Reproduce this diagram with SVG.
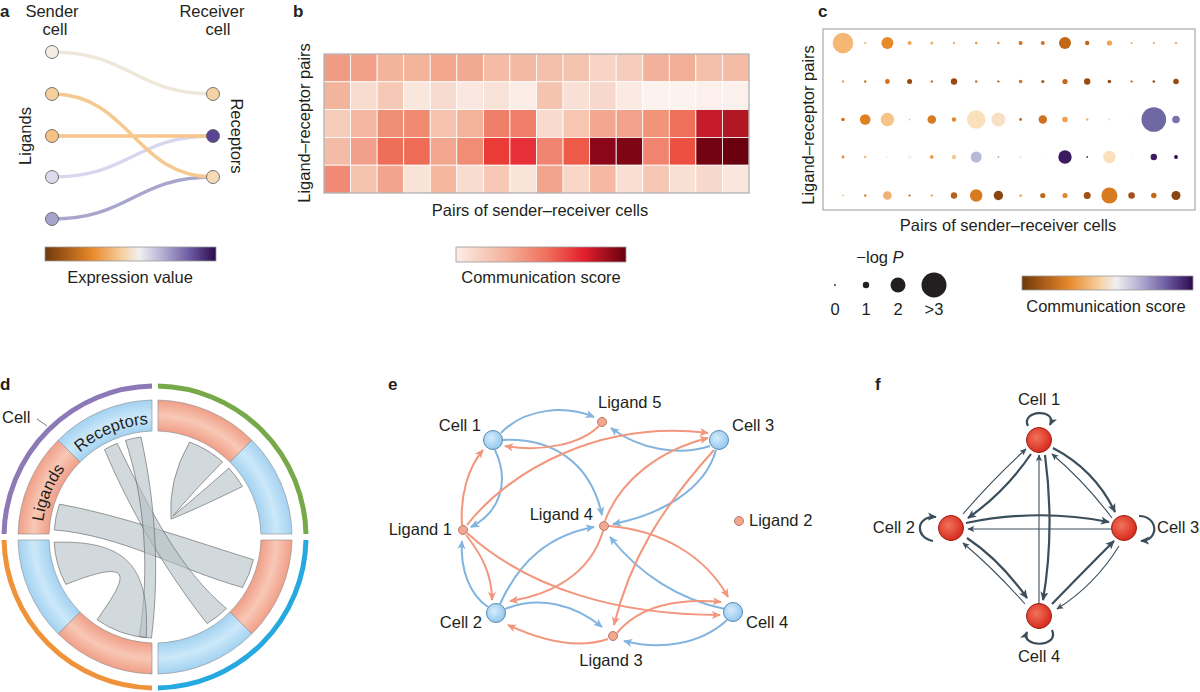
<svg xmlns="http://www.w3.org/2000/svg" width="1200" height="692" viewBox="0 0 1200 692">
<defs>
<style>
text{font-family:"Liberation Sans",Arial,sans-serif;font-size:16.5px;fill:#231f20}
.pl{font-weight:bold;font-size:17px}
.na{stroke:#555;stroke-width:0.8}
.ca{fill:none;stroke-width:3.5}
.hm rect{stroke:#fff;stroke-width:0.8}
.bar{stroke:#999;stroke-width:0.8}
.ring{fill:none;stroke-width:5}
.sal{fill:url(#gs);stroke:#8a8a8a;stroke-width:0.6}
.blu{fill:url(#gb);stroke:#8a8a8a;stroke-width:0.6}
.chord{fill:#b4bfc5;fill-opacity:0.6;stroke:#5c5c5c;stroke-width:0.6}
.eb{fill:none;stroke:#82b4df;stroke-width:2;marker-end:url(#mb)}
.es{fill:none;stroke:#f2977d;stroke-width:2;marker-end:url(#ms)}
.cell{fill:url(#ge);stroke:#4c7fa5;stroke-width:0.9}
.lig{fill:#f4a78f;stroke:#a8644c;stroke-width:0.8}
.fk{fill:none;stroke:#3b4e5b;stroke-width:2.2;marker-end:url(#mk)}
.fn{fill:none;stroke:#3b4e5b;stroke-width:1.1;marker-end:url(#mn)}
.fc{fill:url(#gf);stroke:#9b1b12;stroke-width:1}
</style>
<linearGradient id="gexp" x1="0" x2="1" y1="0" y2="0">
<stop offset="0" stop-color="#6e3a0c"/><stop offset="0.12" stop-color="#a65a17"/><stop offset="0.28" stop-color="#e98a2c"/><stop offset="0.45" stop-color="#f6cf9f"/><stop offset="0.55" stop-color="#f1f0f0"/><stop offset="0.68" stop-color="#b6b4d5"/><stop offset="0.85" stop-color="#6a58a0"/><stop offset="1" stop-color="#2c0a4d"/>
</linearGradient>
<linearGradient id="gcom" x1="0" x2="1" y1="0" y2="0">
<stop offset="0" stop-color="#fbede6"/><stop offset="0.3" stop-color="#f4b09a"/><stop offset="0.55" stop-color="#ee6b57"/><stop offset="0.75" stop-color="#e41f2e"/><stop offset="1" stop-color="#67000d"/>
</linearGradient>
<radialGradient id="gs" gradientUnits="userSpaceOnUse" cx="155" cy="537" r="137">
<stop offset="0.774" stop-color="#f09f88"/><stop offset="0.887" stop-color="#f8c8b6"/><stop offset="1" stop-color="#f09f88"/>
</radialGradient>
<radialGradient id="gb" gradientUnits="userSpaceOnUse" cx="155" cy="537" r="137">
<stop offset="0.774" stop-color="#a3d2f1"/><stop offset="0.887" stop-color="#cce8f9"/><stop offset="1" stop-color="#a3d2f1"/>
</radialGradient>
<radialGradient id="ge" cx="0.4" cy="0.4" r="0.65">
<stop offset="0" stop-color="#d5ecfb"/><stop offset="1" stop-color="#8fc6ee"/>
</radialGradient>
<radialGradient id="gf" cx="0.4" cy="0.4" r="0.65">
<stop offset="0" stop-color="#f2735a"/><stop offset="1" stop-color="#d4261a"/>
</radialGradient>
<marker id="mb" viewBox="0 0 10 10" refX="9" refY="5" markerWidth="9" markerHeight="9" markerUnits="userSpaceOnUse" orient="auto"><path d="M0,0.5 L10,5 L0,9.5 L2.5,5 Z" fill="#82b4df"/></marker>
<marker id="ms" viewBox="0 0 10 10" refX="9" refY="5" markerWidth="9" markerHeight="9" markerUnits="userSpaceOnUse" orient="auto"><path d="M0,0.5 L10,5 L0,9.5 L2.5,5 Z" fill="#f2977d"/></marker>
<marker id="mk" viewBox="0 0 10 10" refX="9" refY="5" markerWidth="9" markerHeight="9" markerUnits="userSpaceOnUse" orient="auto"><path d="M0,0.5 L10,5 L0,9.5 L2.5,5 Z" fill="#3b4e5b"/></marker>
<marker id="mn" viewBox="0 0 10 10" refX="9" refY="5" markerWidth="7" markerHeight="7" markerUnits="userSpaceOnUse" orient="auto"><path d="M0,0.5 L10,5 L0,9.5 L2.5,5 Z" fill="#3b4e5b"/></marker>
<path id="tpR" d="M75.1,457.1 A113,113 0 0 1 155,424"/>
<path id="tpL" d="M42,537 A113,113 0 0 1 75.1,457.1"/>
</defs>
<rect width="1200" height="692" fill="#fff"/>

<!-- Panel a -->
<g id="panel-a">
<text class="pl" x="0" y="17">a</text>
<text x="52" y="17" text-anchor="middle">Sender</text>
<text x="55" y="35" text-anchor="middle">cell</text>
<text x="212" y="17" text-anchor="middle">Receiver</text>
<text x="218" y="35" text-anchor="middle">cell</text>
<text transform="translate(31,136) rotate(-90)" text-anchor="middle">Ligands</text>
<text transform="translate(231,136) rotate(90)" text-anchor="middle">Receptors</text>
<g id="a-links">
<path class="ca" stroke="#efe7da" d="M52,52 C130,52 135,94 213,94"/>
<path class="ca" stroke="#d9d7ed" d="M52,177 C130,177 135,136 213,136"/>
<path class="ca" stroke="#a9a6cd" d="M52,219 C130,219 135,177 213,177"/>
<path class="ca" stroke="#f6c68a" d="M52,136 L213,136"/>
<path class="ca" stroke="#f5c98f" d="M52,94 C130,94 135,177 213,177"/>
</g>
<g id="a-nodes">
<circle class="na" cx="52" cy="52" r="6.5" fill="#f4ece0"/>
<circle class="na" cx="52" cy="94" r="6.5" fill="#f7cf9f"/>
<circle class="na" cx="52" cy="136" r="6.5" fill="#f5c285"/>
<circle class="na" cx="52" cy="177" r="6.5" fill="#dcdbee"/>
<circle class="na" cx="52" cy="219" r="6.5" fill="#a6a4cb"/>
<circle class="na" cx="213" cy="94" r="6.5" fill="#f6d3a4"/>
<circle class="na" cx="213" cy="136" r="6.5" fill="#5b4394"/>
<circle class="na" cx="213" cy="177" r="6.5" fill="#f6dbb8"/>
</g>
<rect class="bar" x="45" y="247" width="171" height="14" fill="url(#gexp)"/>
<text x="130" y="283" text-anchor="middle">Expression value</text>
</g>

<!-- Panel b -->
<g id="panel-b">
<text class="pl" x="293" y="17">b</text>
<text transform="translate(310,123) rotate(-90)" text-anchor="middle">Ligand–receptor pairs</text>
<g class="hm">
<rect x="324" y="54" width="26.56" height="27.8" fill="#f09c84"/><rect x="350.56" y="54" width="26.56" height="27.8" fill="#f2a088"/><rect x="377.13" y="54" width="26.56" height="27.8" fill="#f3b49c"/><rect x="403.69" y="54" width="26.56" height="27.8" fill="#f3b29a"/><rect x="430.25" y="54" width="26.56" height="27.8" fill="#f2a68c"/><rect x="456.81" y="54" width="26.56" height="27.8" fill="#f1a990"/><rect x="483.38" y="54" width="26.56" height="27.8" fill="#f4bba5"/><rect x="509.94" y="54" width="26.56" height="27.8" fill="#f4b9a2"/><rect x="536.5" y="54" width="26.56" height="27.8" fill="#f4c0aa"/><rect x="563.06" y="54" width="26.56" height="27.8" fill="#f4c3ae"/><rect x="589.63" y="54" width="26.56" height="27.8" fill="#f7d4c6"/><rect x="616.19" y="54" width="26.56" height="27.8" fill="#f6cdbc"/><rect x="642.75" y="54" width="26.56" height="27.8" fill="#f3b09a"/><rect x="669.31" y="54" width="26.56" height="27.8" fill="#f2ae96"/><rect x="695.88" y="54" width="26.56" height="27.8" fill="#f4bfa9"/><rect x="722.44" y="54" width="26.56" height="27.8" fill="#f4bba5"/>
<rect x="324" y="81.8" width="26.56" height="27.8" fill="#f3b49c"/><rect x="350.56" y="81.8" width="26.56" height="27.8" fill="#f8dcd0"/><rect x="377.13" y="81.8" width="26.56" height="27.8" fill="#f6c8b6"/><rect x="403.69" y="81.8" width="26.56" height="27.8" fill="#f9e6dd"/><rect x="430.25" y="81.8" width="26.56" height="27.8" fill="#f8dbd0"/><rect x="456.81" y="81.8" width="26.56" height="27.8" fill="#fae8e0"/><rect x="483.38" y="81.8" width="26.56" height="27.8" fill="#f9e2d8"/><rect x="509.94" y="81.8" width="26.56" height="27.8" fill="#fbece6"/><rect x="536.5" y="81.8" width="26.56" height="27.8" fill="#f5c4af"/><rect x="563.06" y="81.8" width="26.56" height="27.8" fill="#f9e0d6"/><rect x="589.63" y="81.8" width="26.56" height="27.8" fill="#f8d8cc"/><rect x="616.19" y="81.8" width="26.56" height="27.8" fill="#faeae2"/><rect x="642.75" y="81.8" width="26.56" height="27.8" fill="#fcf3ef"/><rect x="669.31" y="81.8" width="26.56" height="27.8" fill="#fcf2ee"/><rect x="695.88" y="81.8" width="26.56" height="27.8" fill="#fbf0eb"/><rect x="722.44" y="81.8" width="26.56" height="27.8" fill="#fbf0eb"/>
<rect x="324" y="109.6" width="26.56" height="27.8" fill="#f6ccbb"/><rect x="350.56" y="109.6" width="26.56" height="27.8" fill="#f5b6a1"/><rect x="377.13" y="109.6" width="26.56" height="27.8" fill="#f08e74"/><rect x="403.69" y="109.6" width="26.56" height="27.8" fill="#f08b72"/><rect x="430.25" y="109.6" width="26.56" height="27.8" fill="#f5c3ae"/><rect x="456.81" y="109.6" width="26.56" height="27.8" fill="#f3b29a"/><rect x="483.38" y="109.6" width="26.56" height="27.8" fill="#ef7f68"/><rect x="509.94" y="109.6" width="26.56" height="27.8" fill="#ef7f68"/><rect x="536.5" y="109.6" width="26.56" height="27.8" fill="#f8dacd"/><rect x="563.06" y="109.6" width="26.56" height="27.8" fill="#f6c6b3"/><rect x="589.63" y="109.6" width="26.56" height="27.8" fill="#f3a78f"/><rect x="616.19" y="109.6" width="26.56" height="27.8" fill="#f2a28a"/><rect x="642.75" y="109.6" width="26.56" height="27.8" fill="#f29478"/><rect x="669.31" y="109.6" width="26.56" height="27.8" fill="#ee6f5a"/><rect x="695.88" y="109.6" width="26.56" height="27.8" fill="#c51b2a"/><rect x="722.44" y="109.6" width="26.56" height="27.8" fill="#b21824"/>
<rect x="324" y="137.4" width="26.56" height="27.8" fill="#f4bca6"/><rect x="350.56" y="137.4" width="26.56" height="27.8" fill="#f2a08a"/><rect x="377.13" y="137.4" width="26.56" height="27.8" fill="#ee6f58"/><rect x="403.69" y="137.4" width="26.56" height="27.8" fill="#ee6c56"/><rect x="430.25" y="137.4" width="26.56" height="27.8" fill="#f2a68e"/><rect x="456.81" y="137.4" width="26.56" height="27.8" fill="#f08d74"/><rect x="483.38" y="137.4" width="26.56" height="27.8" fill="#ea3b36"/><rect x="509.94" y="137.4" width="26.56" height="27.8" fill="#e7303a"/><rect x="536.5" y="137.4" width="26.56" height="27.8" fill="#f08470"/><rect x="563.06" y="137.4" width="26.56" height="27.8" fill="#ed5a48"/><rect x="589.63" y="137.4" width="26.56" height="27.8" fill="#8a0618"/><rect x="616.19" y="137.4" width="26.56" height="27.8" fill="#7d0514"/><rect x="642.75" y="137.4" width="26.56" height="27.8" fill="#f08470"/><rect x="669.31" y="137.4" width="26.56" height="27.8" fill="#ec5040"/><rect x="695.88" y="137.4" width="26.56" height="27.8" fill="#730311"/><rect x="722.44" y="137.4" width="26.56" height="27.8" fill="#6a000e"/>
<rect x="324" y="165.2" width="26.56" height="27.8" fill="#f08a74"/><rect x="350.56" y="165.2" width="26.56" height="27.8" fill="#f5c4af"/><rect x="377.13" y="165.2" width="26.56" height="27.8" fill="#f3a48c"/><rect x="403.69" y="165.2" width="26.56" height="27.8" fill="#f9e2d6"/><rect x="430.25" y="165.2" width="26.56" height="27.8" fill="#f4b7a0"/><rect x="456.81" y="165.2" width="26.56" height="27.8" fill="#f8dccf"/><rect x="483.38" y="165.2" width="26.56" height="27.8" fill="#f6c8b5"/><rect x="509.94" y="165.2" width="26.56" height="27.8" fill="#fae4da"/><rect x="536.5" y="165.2" width="26.56" height="27.8" fill="#f3a48c"/><rect x="563.06" y="165.2" width="26.56" height="27.8" fill="#f8d6c8"/><rect x="589.63" y="165.2" width="26.56" height="27.8" fill="#f5b8a2"/><rect x="616.19" y="165.2" width="26.56" height="27.8" fill="#faded2"/><rect x="642.75" y="165.2" width="26.56" height="27.8" fill="#f6c8b4"/><rect x="669.31" y="165.2" width="26.56" height="27.8" fill="#f9e0d4"/><rect x="695.88" y="165.2" width="26.56" height="27.8" fill="#f8d8cb"/><rect x="722.44" y="165.2" width="26.56" height="27.8" fill="#fae6dd"/>
</g>
<rect x="324" y="54" width="425" height="139" fill="none" stroke="#999" stroke-width="1"/>
<text x="540" y="216" text-anchor="middle">Pairs of sender–receiver cells</text>
<rect class="bar" x="456" y="247" width="170" height="15" fill="url(#gcom)"/>
<text x="541" y="283" text-anchor="middle">Communication score</text>
</g>

<!-- Panel c -->
<g id="panel-c">
<text class="pl" x="818" y="17">c</text>
<rect x="823" y="29" width="372" height="181" fill="none" stroke="#999" stroke-width="1"/>
<text transform="translate(814,125) rotate(-90)" text-anchor="middle">Ligand–receptor pairs</text>
<g id="c-dots">
<circle cx="843" cy="43" r="10.3" fill="#f5b774"/><circle cx="865.2" cy="43" r="1.2" fill="#f0c090"/><circle cx="887.4" cy="43" r="6" fill="#e8892a"/><circle cx="909.6" cy="43" r="2" fill="#f0a860"/><circle cx="931.8" cy="43" r="1.6" fill="#f0b070"/><circle cx="954" cy="43" r="1.2" fill="#f0b070"/><circle cx="976.2" cy="43" r="1.2" fill="#e89040"/><circle cx="998.4" cy="43" r="1.2" fill="#e89040"/><circle cx="1020.6" cy="43" r="2" fill="#d47020"/><circle cx="1042.8" cy="43" r="2" fill="#d47020"/><circle cx="1065" cy="43" r="6" fill="#c06818"/><circle cx="1087.2" cy="43" r="2.2" fill="#c06818"/><circle cx="1109.4" cy="43" r="2.6" fill="#f0a050"/><circle cx="1131.6" cy="43" r="1.1" fill="#f0b070"/><circle cx="1153.8" cy="43" r="1.1" fill="#e8a060"/><circle cx="1176" cy="43" r="1.2" fill="#f0b070"/>
<circle cx="843" cy="81.5" r="1.2" fill="#e8a060"/><circle cx="865.2" cy="81.5" r="1.2" fill="#c87020"/><circle cx="887.4" cy="81.5" r="2.4" fill="#d47020"/><circle cx="909.6" cy="81.5" r="2.5" fill="#9a4a10"/><circle cx="931.8" cy="81.5" r="1.2" fill="#c07030"/><circle cx="954" cy="81.5" r="3.2" fill="#9a4a10"/><circle cx="976.2" cy="81.5" r="1.2" fill="#c07030"/><circle cx="998.4" cy="81.5" r="1.1" fill="#9a4a10"/><circle cx="1020.6" cy="81.5" r="1.8" fill="#d47020"/><circle cx="1042.8" cy="81.5" r="1.6" fill="#a85818"/><circle cx="1065" cy="81.5" r="2.6" fill="#c06818"/><circle cx="1087.2" cy="81.5" r="3.2" fill="#9a4a10"/><circle cx="1109.4" cy="81.5" r="1.8" fill="#9a4a10"/><circle cx="1131.6" cy="81.5" r="1.1" fill="#a85818"/><circle cx="1153.8" cy="81.5" r="1.3" fill="#9a4a10"/><circle cx="1176" cy="81.5" r="2.8" fill="#9a4a10"/>
<circle cx="843" cy="119.5" r="1.8" fill="#d47020"/><circle cx="865.2" cy="119.5" r="5.3" fill="#e08020"/><circle cx="887.4" cy="119.5" r="6.7" fill="#f7c488"/><circle cx="909.6" cy="119.5" r="0.9" fill="#f0c090"/><circle cx="931.8" cy="119.5" r="4.3" fill="#d87a20"/><circle cx="954" cy="119.5" r="2.2" fill="#e08a30"/><circle cx="976.2" cy="119.5" r="9.3" fill="#fbe0bc"/><circle cx="998.4" cy="119.5" r="7" fill="#f8e0c4"/><circle cx="1020.6" cy="119.5" r="1.4" fill="#c06818"/><circle cx="1042.8" cy="119.5" r="4.2" fill="#d07020"/><circle cx="1065" cy="119.5" r="2.8" fill="#f0a050"/><circle cx="1087.2" cy="119.5" r="1.2" fill="#f0b070"/><circle cx="1109.4" cy="119.5" r="0.9" fill="#f5d0a0"/><circle cx="1131.6" cy="119.5" r="0.6" fill="#f8e8d8"/><circle cx="1153.8" cy="119.5" r="12.3" fill="#6f68a2"/><circle cx="1176" cy="119.5" r="3.8" fill="#7a72ac"/>
<circle cx="843" cy="157" r="1.4" fill="#e08a30"/><circle cx="865.2" cy="157" r="1.2" fill="#f0b070"/><circle cx="887.4" cy="157" r="0.9" fill="#f0eee8"/><circle cx="909.6" cy="157" r="2" fill="#f0eff2"/><circle cx="931.8" cy="157" r="1.9" fill="#f0a050"/><circle cx="954" cy="157" r="2.2" fill="#f5c890"/><circle cx="976.2" cy="157" r="5.5" fill="#b8b8d8"/><circle cx="998.4" cy="157" r="0.9" fill="#b0b0d0"/><circle cx="1020.6" cy="157" r="1" fill="#f8d8b8"/><circle cx="1042.8" cy="157" r="0.8" fill="#ececf0"/><circle cx="1065" cy="157" r="6.7" fill="#3c1c60"/><circle cx="1087.2" cy="157" r="0.9" fill="#4a3070"/><circle cx="1109.4" cy="157" r="6.2" fill="#fbe0bc"/><circle cx="1131.6" cy="157" r="0.8" fill="#e8e8f0"/><circle cx="1153.8" cy="157" r="3.2" fill="#3c1c60"/><circle cx="1176" cy="157" r="1.9" fill="#2d0a4e"/>
<circle cx="843" cy="195.5" r="1" fill="#f5c890"/><circle cx="865.2" cy="195.5" r="1.2" fill="#d87a20"/><circle cx="887.4" cy="195.5" r="4.3" fill="#f0b070"/><circle cx="909.6" cy="195.5" r="1.1" fill="#b06020"/><circle cx="931.8" cy="195.5" r="1.1" fill="#e89040"/><circle cx="954" cy="195.5" r="3.2" fill="#b86018"/><circle cx="976.2" cy="195.5" r="6.2" fill="#d87a20"/><circle cx="998.4" cy="195.5" r="4.7" fill="#8c4510"/><circle cx="1020.6" cy="195.5" r="1.6" fill="#f5b870"/><circle cx="1042.8" cy="195.5" r="2.6" fill="#c06818"/><circle cx="1065" cy="195.5" r="2.6" fill="#e08a30"/><circle cx="1087.2" cy="195.5" r="3.5" fill="#a05018"/><circle cx="1109.4" cy="195.5" r="8" fill="#d87a20"/><circle cx="1131.6" cy="195.5" r="3.3" fill="#a05018"/><circle cx="1153.8" cy="195.5" r="2.7" fill="#c06818"/><circle cx="1176" cy="195.5" r="4.5" fill="#8c4510"/>
</g>
<text x="1008" y="231" text-anchor="middle">Pairs of sender–receiver cells</text>
<text x="880" y="263" text-anchor="middle">−log <tspan font-style="italic">P</tspan></text>
<circle cx="835" cy="285" r="0.9" fill="#231f20"/>
<circle cx="866" cy="285" r="3.2" fill="#231f20"/>
<circle cx="898" cy="285" r="7.5" fill="#231f20"/>
<circle cx="934" cy="285" r="12.5" fill="#231f20"/>
<text x="835" y="315" text-anchor="middle">0</text>
<text x="866" y="315" text-anchor="middle">1</text>
<text x="898" y="315" text-anchor="middle">2</text>
<text x="934" y="315" text-anchor="middle">&gt;3</text>
<rect class="bar" x="1022" y="276" width="171" height="14" fill="url(#gexp)"/>
<text x="1106" y="312" text-anchor="middle">Communication score</text>
</g>

<!-- Panel d -->
<g id="panel-d">
<text class="pl" x="0" y="390">d</text>
<path class="ring" stroke="#8c79b6" d="M4.03,534 A151,151 0 0 1 152,386.03"/>
<path class="ring" stroke="#77a94a" d="M158,386.03 A151,151 0 0 1 305.97,534"/>
<path class="ring" stroke="#25a9e0" d="M305.97,540 A151,151 0 0 1 158,687.97"/>
<path class="ring" stroke="#f0923a" d="M152,687.97 A151,151 0 0 1 4.03,540"/>
<path class="sal" d="M18.03,534 A137,137 0 0 1 58.13,440.13 L80.05,462.05 A106,106 0 0 0 49.04,534 Z"/>
<path class="blu" d="M58.13,440.13 A137,137 0 0 1 152,400.03 L152,431.04 A106,106 0 0 0 80.05,462.05 Z"/>
<path class="sal" d="M158,400.03 A137,137 0 0 1 251.87,440.13 L229.95,462.05 A106,106 0 0 0 158,431.04 Z"/>
<path class="blu" d="M251.87,440.13 A137,137 0 0 1 291.97,534 L260.96,534 A106,106 0 0 0 229.95,462.05 Z"/>
<path class="sal" d="M291.97,540 A137,137 0 0 1 251.87,633.87 L229.95,611.95 A106,106 0 0 0 260.96,540 Z"/>
<path class="blu" d="M251.87,633.87 A137,137 0 0 1 158,673.97 L158,642.96 A106,106 0 0 0 229.95,611.95 Z"/>
<path class="sal" d="M152,673.97 A137,137 0 0 1 58.13,633.87 L80.05,611.95 A106,106 0 0 0 152,642.96 Z"/>
<path class="blu" d="M58.13,633.87 A137,137 0 0 1 18.03,540 L49.04,540 A106,106 0 0 0 80.05,611.95 Z"/>
<text font-size="15"><textPath href="#tpR" startOffset="50%" text-anchor="middle">Receptors</textPath></text>
<text font-size="15"><textPath href="#tpL" startOffset="50%" text-anchor="middle">Ligands</textPath></text>
<text x="2" y="423">Cell</text>
<path d="M37,419 L47,426" stroke="#555" stroke-width="0.8" fill="none"/>
<g id="chords">
<path class="chord" d="M54.24,529.95 A101,101 0 0 1 59.5,504.12 C120,515 190,540 253.41,559.72 A101,101 0 0 1 242.47,587.5 C180,570 120,535 54.24,529.95 Z"/>
<path class="chord" d="M104.5,449.53 A101,101 0 0 1 117.17,443.35 C150,510 180,570 226.42,608.42 A101,101 0 0 1 207.02,623.58 C165,570 130,510 104.5,449.53 Z"/>
<path class="chord" d="M125.47,440.41 A101,101 0 0 1 140.94,436.98 C155,500 160,570 151.47,637.94 A101,101 0 0 1 139.2,636.76 C150,570 145,500 125.47,440.41 Z"/>
<path class="chord" d="M54.14,542.28 C125,540 150,565 146.2,637.6 A101,101 0 0 1 97.07,619.74 C125,580 140,555 65.83,584.42 A101,101 0 0 1 54.14,542.28 Z"/>
<path class="chord" d="M189.54,442.09 A101,101 0 0 1 222.58,461.94 Q190,495 173,516 Q195,498 228.87,468.12 A101,101 0 0 1 242.47,486.5 Q190,512 171,519 Q168,480 189.54,442.09 Z"/>
</g>
</g>

<!-- Panel e -->
<g id="panel-e">
<text class="pl" x="388" y="390">e</text>
<g id="e-connectors">
<path class="eb" d="M501,433 C525,408 565,405 594,417"/>
<path class="eb" d="M710,446 C680,456 640,450 611,428"/>
<path class="eb" d="M503,440 C550,438 590,460 602,515"/>
<path class="eb" d="M495,450 C510,482 500,512 471,527"/>
<path class="eb" d="M716,450 C705,490 660,515 613,524"/>
<path class="eb" d="M500,604 C520,560 550,535 594,527"/>
<path class="eb" d="M488,607 C470,595 460,570 462,541"/>
<path class="eb" d="M505,609 C540,595 575,605 602,627"/>
<path class="eb" d="M725,609 C680,600 640,575 610,537"/>
<path class="eb" d="M727,620 C700,645 660,650 624,641"/>
<path class="es" d="M599,426 C580,445 540,452 505,446"/>
<path class="es" d="M467,525 C510,470 600,420 708,433"/>
<path class="es" d="M605,521 C620,480 660,450 708,438"/>
<path class="es" d="M714,450 C660,510 630,560 614,625"/>
<path class="es" d="M462,525 C460,495 468,468 483,450"/>
<path class="es" d="M466,535 C482,555 492,575 492,600"/>
<path class="es" d="M467,533 C530,590 620,615 720,615"/>
<path class="es" d="M603,531 C590,575 550,595 510,601"/>
<path class="es" d="M609,526 C660,530 705,555 728,597"/>
<path class="es" d="M608,639 C575,650 540,640 508,625"/>
<path class="es" d="M617,633 C640,605 680,598 721,602"/>
</g>
<g id="e-cell1"><circle class="cell" cx="493" cy="440" r="9.5"/><text x="481" y="431" text-anchor="end">Cell 1</text></g>
<g id="e-cell3"><circle class="cell" cx="719" cy="440" r="9.5"/><text x="732" y="431">Cell 3</text></g>
<g id="e-cell2"><circle class="cell" cx="496" cy="613" r="9.5"/><text x="482" y="628" text-anchor="end">Cell 2</text></g>
<g id="e-cell4"><circle class="cell" cx="733" cy="612" r="9.5"/><text x="746" y="628">Cell 4</text></g>
<g id="e-lig5"><circle class="lig" cx="602" cy="422" r="4.5"/><text x="598" y="408">Ligand 5</text></g>
<g id="e-lig1"><circle class="lig" cx="463" cy="530" r="4.5"/><text x="452" y="535" text-anchor="end">Ligand 1</text></g>
<g id="e-lig4"><circle class="lig" cx="604" cy="526" r="4.5"/><text x="593" y="520" text-anchor="end">Ligand 4</text></g>
<g id="e-lig2"><circle class="lig" cx="739" cy="521" r="4.5"/><text x="749" y="526">Ligand 2</text></g>
<g id="e-lig3"><circle class="lig" cx="613" cy="636" r="4.5"/><text x="611" y="666" text-anchor="middle">Ligand 3</text></g>
</g>

<!-- Panel f -->
<g id="panel-f">
<text class="pl" x="875" y="390">f</text>
<g id="f-connectors">
<path class="fn" d="M963,514 Q992,480 1026,449"/>
<path class="fk" d="M1031,454 Q1005,492 968,518"/>
<path class="fk" d="M1053,448 Q1095,470 1115,512"/>
<path class="fn" d="M1112,518 Q1085,482 1052,454"/>
<path class="fk" d="M966,523 Q1038,508 1109,522"/>
<path class="fn" d="M1111,529 L968,529"/>
<path class="fn" d="M1039,604 L1039,455"/>
<path class="fk" d="M1045,455 Q1055,530 1043,600"/>
<path class="fk" d="M967,538 Q1000,560 1027,598"/>
<path class="fn" d="M1025,604 Q995,570 963,543"/>
<path class="fk" d="M1052,604 Q1085,570 1114,541"/>
<path class="fn" d="M1119,546 Q1095,585 1057,609"/>
<path class="fk" d="M1028,426 C1020,410 1058,408 1050,425"/>
<path class="fk" d="M933,541 C915,538 915,516 936,517"/>
<path class="fk" d="M1139,516 C1158,516 1160,540 1141,541"/>
<path class="fk" d="M1052,630 C1060,648 1020,648 1027,632"/>
</g>
<g id="f-cell1"><circle class="fc" cx="1039" cy="440" r="12.5"/><text x="1039" y="405" text-anchor="middle">Cell 1</text></g>
<g id="f-cell2"><circle class="fc" cx="951" cy="528" r="12.5"/><text x="915" y="533" text-anchor="end">Cell 2</text></g>
<g id="f-cell3"><circle class="fc" cx="1124" cy="528" r="12.5"/><text x="1157" y="533">Cell 3</text></g>
<g id="f-cell4"><circle class="fc" cx="1039" cy="616" r="12.5"/><text x="1039" y="662" text-anchor="middle">Cell 4</text></g>
</g>
</svg>
